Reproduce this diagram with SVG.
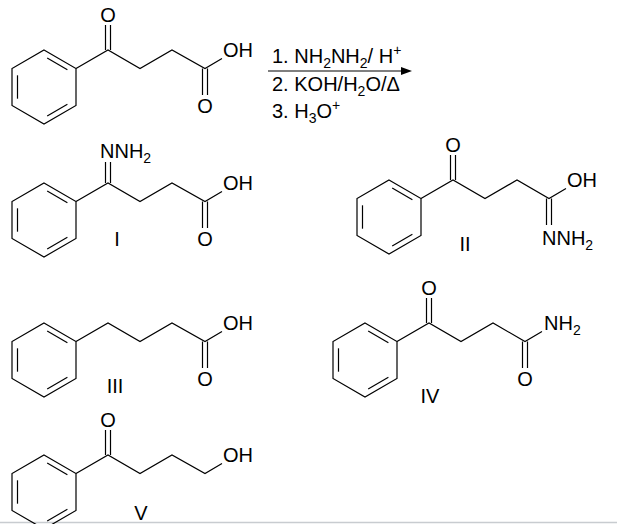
<svg xmlns="http://www.w3.org/2000/svg" xmlns:xlink="http://www.w3.org/1999/xlink" width="617" height="524" viewBox="0 0 617 524">
<style>
.b{stroke:#000;stroke-width:1.2;fill:none}
text{font-family:"Liberation Sans",Arial,sans-serif;font-size:20px;fill:#000}
.s{font-size:14px}
</style>
<defs>
<g id="ph" class="b">
<polygon points="0,-37 32,-18.5 32,18.5 0,37 -32,18.5 -32,-18.5"/>
<line x1="3.2" y1="-29" x2="23.4" y2="-17.3"/>
<line x1="23.4" y1="17.3" x2="3.2" y2="29"/>
<line x1="-26.5" y1="11.7" x2="-26.5" y2="-11.7"/>
</g>
</defs>
<rect width="617" height="524" fill="#fff"/>
<line x1="0" y1="522.5" x2="617" y2="522.5" stroke="#c8ccd0" stroke-width="1.5"/>

<g id="start">
<use xlink:href="#ph" x="44" y="87"/>
<polyline class="b" points="76,68.5 108,50 140,68.5 172,50 205,68.5 222,58.5"/>
<line class="b" x1="105.5" y1="50" x2="105.5" y2="25"/><line class="b" x1="110.5" y1="50" x2="110.5" y2="25"/>
<line class="b" x1="202.5" y1="68.5" x2="202.5" y2="95"/><line class="b" x1="207.5" y1="68.5" x2="207.5" y2="95"/>
<text x="108" y="22" text-anchor="middle">O</text>
<text x="223" y="57">OH</text>
<text x="205" y="113" text-anchor="middle">O</text>
</g>

<g id="reagents">
<line class="b" x1="268" y1="71" x2="402" y2="71"/>
<polygon points="412,71 401,67 401,75" fill="#000"/>
<text x="272" y="63">1. NH<tspan class="s" dy="5">2</tspan><tspan dy="-5">NH</tspan><tspan class="s" dy="5">2</tspan><tspan dy="-5">/ H</tspan><tspan class="s" dy="-8">+</tspan></text>
<text x="272" y="91">2. KOH/H<tspan class="s" dy="5">2</tspan><tspan dy="-5">O/Δ</tspan></text>
<text x="272" y="118">3. H<tspan class="s" dy="5">3</tspan><tspan dy="-5">O</tspan><tspan class="s" dy="-8">+</tspan></text>
</g>

<g id="I">
<use xlink:href="#ph" x="44" y="220"/>
<polyline class="b" points="76,201.5 108,183 140,201.5 172,183 205,201.5 222,191.5"/>
<line class="b" x1="105.5" y1="183" x2="105.5" y2="162"/><line class="b" x1="110.5" y1="183" x2="110.5" y2="162"/>
<text x="100" y="158">NNH<tspan class="s" dy="5">2</tspan></text>
<line class="b" x1="202.5" y1="201.5" x2="202.5" y2="228"/><line class="b" x1="207.5" y1="201.5" x2="207.5" y2="228"/>
<text x="223" y="190">OH</text>
<text x="205" y="246" text-anchor="middle">O</text>
<text x="117" y="246" text-anchor="middle">I</text>
</g>

<g id="II">
<use xlink:href="#ph" x="389" y="217"/>
<polyline class="b" points="421,198.5 453,180 485,198.5 517,180 549,198.5 566,188.5"/>
<line class="b" x1="450.5" y1="180" x2="450.5" y2="155"/><line class="b" x1="455.5" y1="180" x2="455.5" y2="155"/>
<line class="b" x1="546.5" y1="198.5" x2="546.5" y2="225"/><line class="b" x1="551.5" y1="198.5" x2="551.5" y2="225"/>
<text x="453" y="152" text-anchor="middle">O</text>
<text x="567" y="187">OH</text>
<text x="542" y="245">NNH<tspan class="s" dy="5">2</tspan></text>
<text x="465" y="251" text-anchor="middle">II</text>
</g>

<g id="III">
<use xlink:href="#ph" x="44" y="360"/>
<polyline class="b" points="76,341.5 108,323 140,341.5 172,323 205,341.5 222,331.5"/>
<line class="b" x1="202.5" y1="341.5" x2="202.5" y2="368"/><line class="b" x1="207.5" y1="341.5" x2="207.5" y2="368"/>
<text x="223" y="330">OH</text>
<text x="205" y="386" text-anchor="middle">O</text>
<text x="115" y="393" text-anchor="middle">III</text>
</g>

<g id="IV">
<use xlink:href="#ph" x="365" y="360"/>
<polyline class="b" points="397,341.5 429,323 461,341.5 493,323 525,341.5 542,331.5"/>
<line class="b" x1="426.5" y1="323" x2="426.5" y2="298"/><line class="b" x1="431.5" y1="323" x2="431.5" y2="298"/>
<line class="b" x1="522.5" y1="341.5" x2="522.5" y2="368"/><line class="b" x1="527.5" y1="341.5" x2="527.5" y2="368"/>
<text x="429" y="295" text-anchor="middle">O</text>
<text x="544" y="330">NH<tspan class="s" dy="5">2</tspan></text>
<text x="525" y="386" text-anchor="middle">O</text>
<text x="430" y="403" text-anchor="middle">IV</text>
</g>

<g id="V">
<use xlink:href="#ph" x="44" y="492"/>
<polyline class="b" points="76,473.5 108,455 140,473.5 172,455 205,473.5 222,463.5"/>
<line class="b" x1="105.5" y1="455" x2="105.5" y2="430"/><line class="b" x1="110.5" y1="455" x2="110.5" y2="430"/>
<text x="108" y="427" text-anchor="middle">O</text>
<text x="223" y="462">OH</text>
<text x="141" y="520" text-anchor="middle">V</text>
</g>
</svg>
